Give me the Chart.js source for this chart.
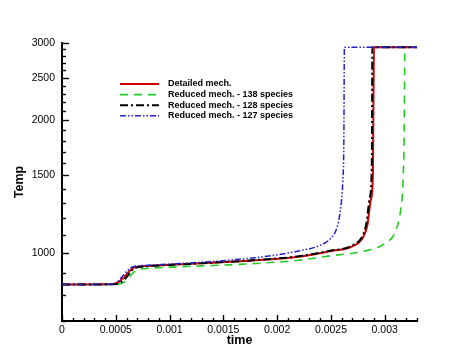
<!DOCTYPE html>
<html><head><meta charset="utf-8">
<script src="https://cdn.jsdelivr.net/npm/chart.js@4/dist/chart.umd.min.js"></script>
<style>html,body{margin:0;padding:0;background:#fff}#wrap{width:474px;height:361px}</style>
</head><body><div id="wrap"><canvas id="c" width="474" height="361"></canvas></div>
<script>
// ---- data ----
const seriesLabels = ['Detailed mech.', 'Reduced mech. - 138 species', 'Reduced mech. - 128 species', 'Reduced mech. - 127 species'];

const detailedTime = [0, 0.00045, 0.00049, 0.00053, 0.00058, 0.00062, 0.00066, 0.0008, 0.001, 0.0014, 0.0018, 0.0022, 0.0025, 0.0027, 0.0028, 0.00284, 0.00287, 0.00289, 0.002895, 0.0029, 0.0033];
const detailedTemp = [847, 848, 850, 860, 882, 905, 924, 934, 940, 950, 962, 980, 1010, 1035, 1087, 1160, 1318, 1500, 2200, 2935, 2935];

const red138Time = [0, 0.00049, 0.00055, 0.0006, 0.00065, 0.0007, 0.0008, 0.001, 0.0014, 0.0018, 0.0022, 0.0025, 0.0028, 0.003, 0.0031, 0.00315, 0.00317, 0.00318, 0.003188, 0.0033];
const red138Temp = [847, 848, 852, 866, 895, 915, 922, 928, 936, 946, 962, 985, 1008, 1050, 1120, 1260, 1450, 1800, 2935, 2935];

const red128Time = [0, 0.00049, 0.00054, 0.00059, 0.00063, 0.00067, 0.0008, 0.001, 0.0014, 0.0018, 0.0022, 0.0025, 0.0027, 0.0028, 0.00283, 0.00286, 0.00288, 0.002885, 0.0033];
const red128Temp = [847, 849, 855, 875, 900, 922, 933, 939, 950, 963, 982, 1012, 1040, 1100, 1170, 1330, 1600, 2935, 2935];

const red127Time = [0, 0.00045, 0.00049, 0.00053, 0.00057, 0.00061, 0.00065, 0.0008, 0.001, 0.0014, 0.0016, 0.0018, 0.002, 0.0022, 0.0024, 0.0025, 0.00255, 0.00258, 0.0026, 0.00261, 0.00262, 0.002625, 0.0033];
const red127Temp = [847, 848, 852, 866, 890, 912, 928, 937, 943, 956, 965, 975, 990, 1010, 1040, 1080, 1130, 1210, 1330, 1450, 1800, 2935, 2935];

const xMajorTicks = [0, 0.0005, 0.001, 0.0015, 0.002, 0.0025, 0.003];
const yMajorTicks = [1000, 1500, 2000, 2500, 3000];
const xMinorStep = 0.0001, xMax = 0.0033;
const yMinorStep = 100, yMin = 700, yMax = 3000;

const pts = (t, v) => t.map((x, i) => ({x: x, y: v[i]}));
const FONT = "'Liberation Sans', Arial, Helvetica, sans-serif";

const inwardTicks = {
  id: 'inwardTicks',
  afterDraw(chart) {
    const ctx = chart.ctx, a = chart.chartArea, xs = chart.scales.x, ys = chart.scales.y;
    ctx.save();
    ctx.strokeStyle = '#000';
    ctx.lineWidth = 1.4;
    xs.ticks.forEach(t => {
      const p = Math.round(xs.getPixelForValue(t.value)) + 0.5;
      const L = t.label !== '' ? 6 : 3;
      ctx.beginPath(); ctx.moveTo(p, a.bottom); ctx.lineTo(p, a.bottom - L); ctx.stroke();
    });
    ys.ticks.forEach(t => {
      const p = Math.round(ys.getPixelForValue(t.value)) + 0.5;
      const L = t.label !== '' ? 7 : 4;
      ctx.beginPath(); ctx.moveTo(a.left, p); ctx.lineTo(a.left + L, p); ctx.stroke();
    });
    ctx.restore();
  }
};

const innerLegend = {
  id: 'innerLegend',
  afterDatasetsDraw(chart) {
    const ctx = chart.ctx, a = chart.chartArea;
    const x0 = a.left + 58, x1 = a.left + 97, tx = a.left + 106;
    let y = a.top + 41;
    ctx.save();
    chart.data.datasets.forEach(ds => {
      ctx.strokeStyle = ds.borderColor;
      ctx.lineWidth = ds.borderWidth;
      ctx.setLineDash(ds.borderDash || []);
      ctx.beginPath(); ctx.moveTo(x0, y); ctx.lineTo(x1, y); ctx.stroke();
      ctx.setLineDash([]);
      ctx.fillStyle = '#000';
      ctx.font = 'bold 9px ' + FONT;
      ctx.textBaseline = 'middle';
      ctx.textAlign = 'left';
      ctx.fillText(ds.label, tx, y);
      y += 10.6;
    });
    ctx.restore();
  }
};

const near = (v, arr, eps) => arr.find(m => Math.abs(m - v) < eps);

new Chart(document.getElementById('c'), {
  type: 'line',
  data: {
    datasets: [
      {label: seriesLabels[0], data: pts(detailedTime, detailedTemp), borderColor: '#d40000', borderWidth: 2, order: 2},
      {label: seriesLabels[1], data: pts(red138Time, red138Temp), borderColor: '#22cc22', borderWidth: 1.6, borderDash: [8, 6], order: 3},
      {label: seriesLabels[2], data: pts(red128Time, red128Temp), borderColor: '#000000', borderWidth: 2, borderDash: [8, 3, 2, 3], order: 1},
      {label: seriesLabels[3], data: pts(red127Time, red127Temp), borderColor: '#2222cc', borderWidth: 1.5, borderDash: [6, 2, 1.5, 2, 1.5, 2], order: 0}
    ]
  },
  options: {
    responsive: false,
    animation: false,
    parsing: true,
    elements: {point: {radius: 0}, line: {tension: 0, cubicInterpolationMode: 'monotone', fill: false}},
    layout: {padding: {left: 0, top: 43, right: 57, bottom: 0}},
    plugins: {legend: {display: false}, tooltip: {enabled: false}},
    scales: {
      x: {
        type: 'linear', min: 0, max: xMax,
        afterFit: s => { s.height = 40; },
        afterBuildTicks: s => {
          const t = [];
          for (let i = 0; i <= Math.round(xMax / xMinorStep); i++) t.push({value: +(i * xMinorStep).toFixed(5)});
          s.ticks = t;
        },
        ticks: {
          autoSkip: false, maxRotation: 0, padding: 3, color: '#000',
          font: {family: FONT, size: 10.5},
          callback: v => { const m = near(v, xMajorTicks, 1e-8); return m !== undefined ? String(m) : ''; }
        },
        grid: {display: true, drawOnChartArea: false, drawTicks: false},
        border: {display: true, color: '#000', width: 2},
        title: {display: true, text: 'time', color: '#000', font: {family: FONT, size: 12.5, weight: 'bold'}, padding: {top: 0, bottom: 13}}
      },
      y: {
        type: 'logarithmic', min: yMin, max: yMax,
        afterFit: s => { s.width = 62; },
        afterBuildTicks: s => {
          const t = [];
          for (let v = yMin; v <= yMax; v += yMinorStep) t.push({value: v});
          s.ticks = t;
        },
        ticks: {
          autoSkip: false, padding: 7, color: '#000',
          font: {family: FONT, size: 10.5},
          callback: v => { const m = near(v, yMajorTicks, 0.5); return m !== undefined ? String(m) : ''; }
        },
        grid: {display: true, drawOnChartArea: false, drawTicks: false},
        border: {display: true, color: '#000', width: 2},
        title: {display: true, text: 'Temp', color: '#000', font: {family: FONT, size: 12.5, weight: 'bold'}, padding: {top: 12, bottom: 0}}
      }
    }
  },
  plugins: [inwardTicks, innerLegend]
});
</script></body></html>
